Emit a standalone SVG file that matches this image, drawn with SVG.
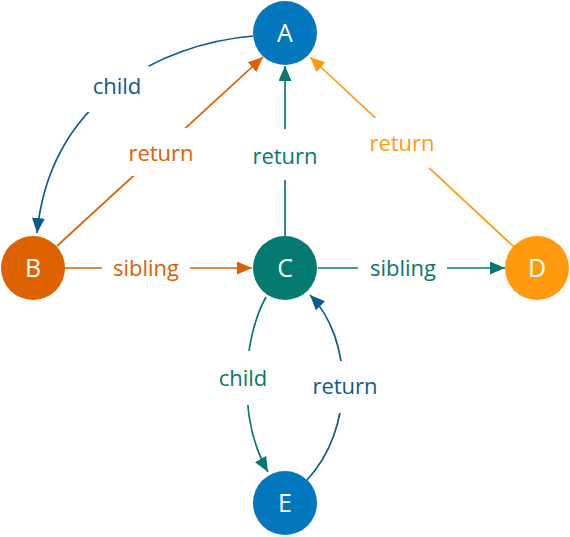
<svg xmlns="http://www.w3.org/2000/svg" width="570" height="537" viewBox="0 0 570 537">
<style>
.e{fill:none;stroke-width:1.7}
.lbl{font-family:"Open Sans","Liberation Sans",sans-serif;font-size:22px;text-anchor:middle}
.nt{font-family:"Open Sans","Liberation Sans",sans-serif;font-size:25px;fill:#fff;text-anchor:middle}
.bg{fill:#fff}
</style>
<defs>
<marker id="mDB" markerWidth="15" markerHeight="13" refX="15" refY="6.5" orient="auto" markerUnits="userSpaceOnUse"><path d="M0,0 L15,6.5 L0,13 z" fill="#0E5A8A"/></marker>
<marker id="mOR" markerWidth="15" markerHeight="13" refX="15" refY="6.5" orient="auto" markerUnits="userSpaceOnUse"><path d="M0,0 L15,6.5 L0,13 z" fill="#DD6100"/></marker>
<marker id="mTE" markerWidth="15" markerHeight="13" refX="15" refY="6.5" orient="auto" markerUnits="userSpaceOnUse"><path d="M0,0 L15,6.5 L0,13 z" fill="#08786E"/></marker>
<marker id="mLO" markerWidth="15" markerHeight="13" refX="15" refY="6.5" orient="auto" markerUnits="userSpaceOnUse"><path d="M0,0 L15,6.5 L0,13 z" fill="#FF9A0D"/></marker>
</defs>
<g id="connectors">
<path class="e" stroke="#0E5A8A" d="M253,36 C160,44 50,100 37,233" marker-end="url(#mDB)"/>
<path class="e" stroke="#DD6100" d="M57,246 L263,57" marker-end="url(#mOR)"/>
<path class="e" stroke="#08786E" d="M285,236 L285,66" marker-end="url(#mTE)"/>
<path class="e" stroke="#FF9A0D" d="M514,247 L310,57" marker-end="url(#mLO)"/>
<path class="e" stroke="#DD6100" d="M65,268 L252,268" marker-end="url(#mOR)"/>
<path class="e" stroke="#08786E" d="M318,268 L505,268" marker-end="url(#mTE)"/>
<path class="e" stroke="#08786E" d="M266,297 C242,340 238,420 268,472" marker-end="url(#mTE)"/>
<path class="e" stroke="#0E5A8A" d="M307,480 C354,430 354,340 310,295" marker-end="url(#mDB)"/>
<rect class="bg" x="87" y="66" width="62" height="46"/>
<rect class="bg" x="126" y="128" width="70" height="48"/>
<rect class="bg" x="245" y="129" width="80" height="51"/>
<rect class="bg" x="364" y="118" width="76" height="50"/>
<rect class="bg" x="102" y="252" width="88" height="32"/>
<rect class="bg" x="358" y="252" width="89" height="32"/>
<rect class="bg" x="212" y="351" width="62" height="54"/>
<rect class="bg" x="306" y="361" width="78" height="52"/>
<text class="lbl" x="117" y="86" dy=".35em" fill="#0E5A8A">child</text>
<text class="lbl" x="161" y="153" dy=".35em" fill="#DD6100">return</text>
<text class="lbl" x="285" y="156" dy=".35em" fill="#08786E">return</text>
<text class="lbl" x="402" y="143" dy=".35em" fill="#FF9A0D">return</text>
<text class="lbl" x="146" y="268" dy=".35em" fill="#DD6100">sibling</text>
<text class="lbl" x="403" y="268" dy=".35em" fill="#08786E">sibling</text>
<text class="lbl" x="243" y="378" dy=".35em" fill="#08786E">child</text>
<text class="lbl" x="345" y="386" dy=".35em" fill="#0E5A8A">return</text>
</g>
<g id="node-A"><circle cx="285" cy="33" r="32" fill="#0277BD"/><text class="nt" x="285" y="33" dy=".36em">A</text></g>
<g id="node-B"><circle cx="33" cy="268" r="32" fill="#DE6200"/><text class="nt" x="33" y="268" dy=".36em">B</text></g>
<g id="node-C"><circle cx="285" cy="268" r="32" fill="#057A70"/><text class="nt" x="285" y="268" dy=".36em">C</text></g>
<g id="node-D"><circle cx="537" cy="268" r="32" fill="#FF9A0F"/><text class="nt" x="537" y="268" dy=".36em">D</text></g>
<g id="node-E"><circle cx="285" cy="503" r="32" fill="#0277BD"/><text class="nt" x="285" y="503" dy=".36em">E</text></g>
</svg>
